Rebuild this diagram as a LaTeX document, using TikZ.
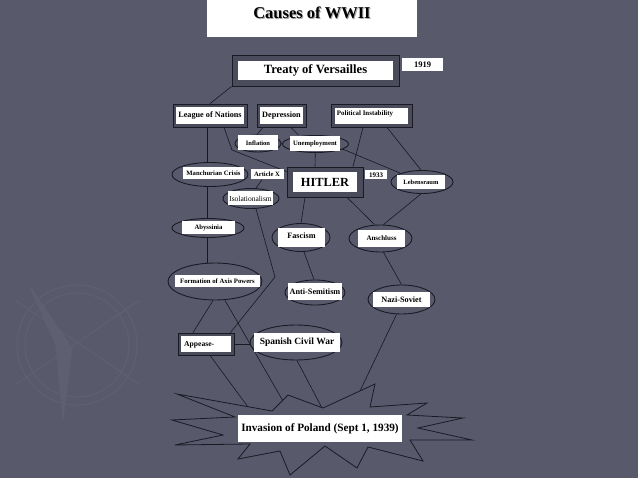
\documentclass[tikz,border=0pt]{standalone}
\usepackage{fontspec}
\setmainfont{Liberation Serif}
\usetikzlibrary{shapes.geometric,calc}
\definecolor{bgcol}{RGB}{88,90,108}
\definecolor{faintcol}{RGB}{94,96,114}
\definecolor{framecol}{RGB}{74,76,92}
\definecolor{edgecol}{RGB}{26,26,36}
\definecolor{linecol}{RGB}{24,24,32}
\newcommand\myfs[1]{\fontsize{#1}{#1}\selectfont\bfseries}
\pgfdeclarelayer{bglayer}
\pgfdeclarelayer{linelayer}
\pgfsetlayers{bglayer,linelayer,main}
\tikzset{
  frame/.style={rectangle, draw=edgecol, fill=framecol, line width=0.8pt, inner sep=0pt},
  wbox/.style={rectangle, fill=white, draw=none, inner sep=0pt},
  oval/.style={ellipse, draw=edgecol, fill=bgcol, line width=0.9pt, inner sep=0pt},
  conn/.style={draw=linecol, line width=0.6pt},
  txt/.style={inner sep=0pt, text=black},
  faint/.style={draw=faintcol, line width=1.2pt},
}
\begin{document}
\begin{tikzpicture}[x=1pt,y=-1pt]
\begin{pgfonlayer}{bglayer}
  \fill[bgcol] (0,0) rectangle (638,478);
  % faint compass decoration
  \draw[faint] (77,345) circle[radius=60pt];
  \draw[faint] (77,345) circle[radius=52pt];
  \draw[faint, fill=faintcol] (30,287) -- (72,348) -- (63,418) -- (56,345) -- cycle;
  \draw[faint] (15,300) -- (140,385);
  \draw[faint] (140,300) -- (15,385);
\end{pgfonlayer}
\useasboundingbox (0,0) rectangle (638,478);

% title
\node[wbox, minimum width=210pt, minimum height=37pt] (titlebox) at (312,18.5) {};
\node[txt, text=black!35, font=\myfs{16.5}] (titleshadow) at (313,14) {Causes of WWII};
\node[txt, font=\myfs{16.5}] (title) at (312,13) {Causes of WWII};

% Treaty
\node[frame, minimum width=167pt, minimum height=31pt] (tov) at (315.5,70.5) {};
\node[wbox, minimum width=155pt, minimum height=19pt, font=\myfs{12.6}] (tovT) at (315.5,70.5) {Treaty of Versailles};
\node[wbox, minimum width=41pt, minimum height=13pt, font=\myfs{8.5}] (y1919) at (422.5,64.5) {1919};

% second row
\node[frame, minimum width=74pt, minimum height=23pt] (lon) at (210,115.5) {};
\node[wbox, minimum width=68pt, minimum height=17pt, font=\myfs{8.2}] (lonT) at (210,115.5) {League of Nations};
\node[frame, minimum width=49pt, minimum height=23pt] (dep) at (281.5,115.5) {};
\node[wbox, minimum width=43pt, minimum height=17pt, font=\myfs{8.2}] (depT) at (281.5,115.5) {Depression};
\node[frame, minimum width=81pt, minimum height=23pt] (pol) at (371.5,115.5) {};
\node[wbox, minimum width=73pt, minimum height=16pt] (polT) at (371.5,116) {};
\node[txt, font=\myfs{6.9}] (polTxt) at (365,113.5) {Political Instability};

% Inflation / Unemployment
\node[oval, minimum width=46pt, minimum height=17pt] (infl) at (258,143.5) {};
\node[wbox, minimum width=40pt, minimum height=15pt, font=\myfs{6.5}] (inflT) at (258,143) {Inflation};
\node[oval, minimum width=66pt, minimum height=17pt] (unemp) at (315.5,144) {};
\node[wbox, minimum width=50pt, minimum height=15pt, font=\myfs{6.7}] (unempT) at (315,143.5) {Unemployment};

% HITLER row
\node[oval, minimum width=76pt, minimum height=24pt] (manch) at (210,174.5) {};
\node[wbox, minimum width=61pt, minimum height=12pt, font=\myfs{6.7}] (manchT) at (213.5,173) {Manchurian Crisis};
\node[wbox, minimum width=33pt, minimum height=10pt, font=\myfs{6.6}] (artx) at (267,174.5) {Article X};
\node[frame, minimum width=76pt, minimum height=30pt] (hitler) at (325,182) {};
\node[wbox, minimum width=64pt, minimum height=20pt, font=\myfs{12.4}] (hitlerT) at (325,182) {HITLER};
\node[wbox, minimum width=22pt, minimum height=9pt, font=\myfs{7}] (y1933) at (376,175) {1933};
\node[oval, minimum width=62pt, minimum height=23pt] (leb) at (422,182) {};
\node[wbox, minimum width=48pt, minimum height=14pt, font=\myfs{6.5}] (lebT) at (421,182) {Lebensraum};
\node[oval, minimum width=56pt, minimum height=20pt] (iso) at (251,198.5) {};
\node[wbox, minimum width=45pt, minimum height=14pt, font=\fontsize{7.5}{7.5}\selectfont] (isoT) at (250.5,198.5) {Isolationalism};

% Abyssinia / Fascism / Anschluss
\node[oval, minimum width=72pt, minimum height=19pt] (aby) at (208,228) {};
\node[wbox, minimum width=53pt, minimum height=13pt, font=\myfs{6.7}] (abyT) at (208.5,228) {Abyssinia};
\node[oval, minimum width=58pt, minimum height=28pt] (fasc) at (301,237.5) {};
\node[wbox, minimum width=47pt, minimum height=19pt] (fascT) at (301.5,237.5) {};
\node[txt, font=\myfs{8.2}] (fascTxt) at (301.5,235.5) {Fascism};
\node[oval, minimum width=63pt, minimum height=27pt] (ansch) at (380.5,238.5) {};
\node[wbox, minimum width=47pt, minimum height=17pt, font=\myfs{7}] (anschT) at (381.5,238.5) {Anschluss};

% Axis / Anti-Semitism / Nazi-Soviet
\node[oval, minimum width=94pt, minimum height=37pt] (axis) at (215,281.5) {};
\node[wbox, minimum width=85pt, minimum height=12pt, font=\myfs{6.7}] (axisT) at (217.5,281) {Formation of Axis Powers};
\node[oval, minimum width=60pt, minimum height=25pt] (anti) at (315,292.5) {};
\node[wbox, minimum width=54pt, minimum height=17pt, font=\myfs{8.2}] (antiT) at (315,291.5) {Anti-Semitism};
\node[oval, minimum width=67pt, minimum height=29pt] (nazi) at (401.5,299.5) {};
\node[wbox, minimum width=57pt, minimum height=15pt, font=\myfs{8.2}] (naziT) at (401.5,299.5) {Nazi-Soviet};

% Appease / Spanish
\node[frame, minimum width=56pt, minimum height=22pt] (app) at (206,344) {};
\node[wbox, minimum width=50pt, minimum height=16pt] (appT) at (206,344) {};
\node[txt, anchor=west, font=\myfs{7.6}] (appTxt) at (184,344.5) {Appease-};
\node[oval, minimum width=92pt, minimum height=35pt] (scw) at (296,342.5) {};
\node[wbox, minimum width=86pt, minimum height=19pt, font=\myfs{9.5}] (scwT) at (297,342.5) {Spanish Civil War};

% explosion
\draw[draw=edgecol, fill=bgcol, line width=0.8pt]
  (177,394) -- (272,411) -- (288,395) -- (323,408) -- (375,384) -- (370,407)
  -- (427,403) -- (407,415) -- (463,418) -- (418,428) -- (472,440) -- (410,440)
  -- (423,461) -- (368,447) -- (357,468) -- (325,446) -- (290,475) -- (280,451)
  -- (238,459) -- (250,444) -- (175,445) -- (223,435) -- (172,420) -- (235,417) -- cycle;
\node[wbox, minimum width=164pt, minimum height=27pt, font=\myfs{11.2}] (inv) at (320,428.5) {Invasion of Poland (Sept 1, 1939)};
\coordinate (invA) at (283,401);
\coordinate (invB) at (248,407);
\coordinate (invC) at (322,408);
\coordinate (invD) at (360,391);
\coordinate (kinkL) at (232,150);
\coordinate (kinkI) at (275,277);

% connectors
\begin{pgfonlayer}{linelayer}
  \draw[conn] (tov.south west) -- (lon.north);
  \draw[conn] ($(lon.center)+(-3,0)$) -- ($(manch.center)+(-3,0)$);
  \draw[conn] ($(manch.center)+(-3,0)$) -- ($(aby.center)+(-1,0)$);
  \draw[conn] ($(aby.center)+(-1,0)$) -- ($(axis.center)+(-8,0)$);
  \draw[conn] ($(lon.south)+(14,0)$) -- (kinkL) -- ($(hitler.north west)+(0,5)$);
  \draw[conn] ($(dep.south)+(-18.5,0)$) -- ($(infl.north)+(-1,0)$);
  \draw[conn] ($(dep.south)+(9.5,0)$) -- ($(unemp.north)+(-17,0)$);
  \draw[conn] (infl.center) -- (unemp.center);
  \draw[conn] ($(unemp.center)+(0,0)$) -- ($(hitler.north)+(-10,0)$);
  \draw[conn] ($(unemp.center)+(24.5,4)$) -- ($(leb.center)+(-22,-9)$);
  \draw[conn] ($(pol.south)+(-8.5,0)$) -- ($(hitler.north)+(28,0)$);
  \draw[conn] ($(pol.south)+(15.5,0)$) -- ($(leb.north)+(-1,0)$);
  \draw[conn] ($(hitler.south)+(-20,0)$) -- (fasc.north);
  \draw[conn] ($(hitler.south)+(22,0)$) -- ($(ansch.north)+(-6,0)$);
  \draw[conn] ($(leb.south)+(-1,0)$) -- ($(ansch.north)+(3,0)$);
  \draw[conn] ($(artx.south)+(-5,0)$) -- ($(iso.north)+(5,0)$);
  \draw[conn] ($(iso.south)+(5,0)$) -- (kinkI) -- ($(app.north east)+(-4,0)$);
  \draw[conn] ($(fasc.south)+(3,0)$) -- ($(anti.north)+(-1,0)$);
  \draw[conn] ($(ansch.south)+(3,0)$) -- (nazi.north);
  \draw[conn] ($(axis.south)+(-2,0)$) -- ($(app.north)+(-13,0)$);
  \draw[conn] ($(axis.south)+(10,0)$) -- (invA);
  \draw[conn, line width=0.9pt] (app.center) -- (app.center -| scw.center);
  \draw[conn] ($(app.south)+(4,0)$) -- (invB);
  \draw[conn] ($(scw.south)+(1,0)$) -- (invC);
  \draw[conn] ($(nazi.south)+(-5,0)$) -- (invD);
\end{pgfonlayer}
\end{tikzpicture}
\end{document}
